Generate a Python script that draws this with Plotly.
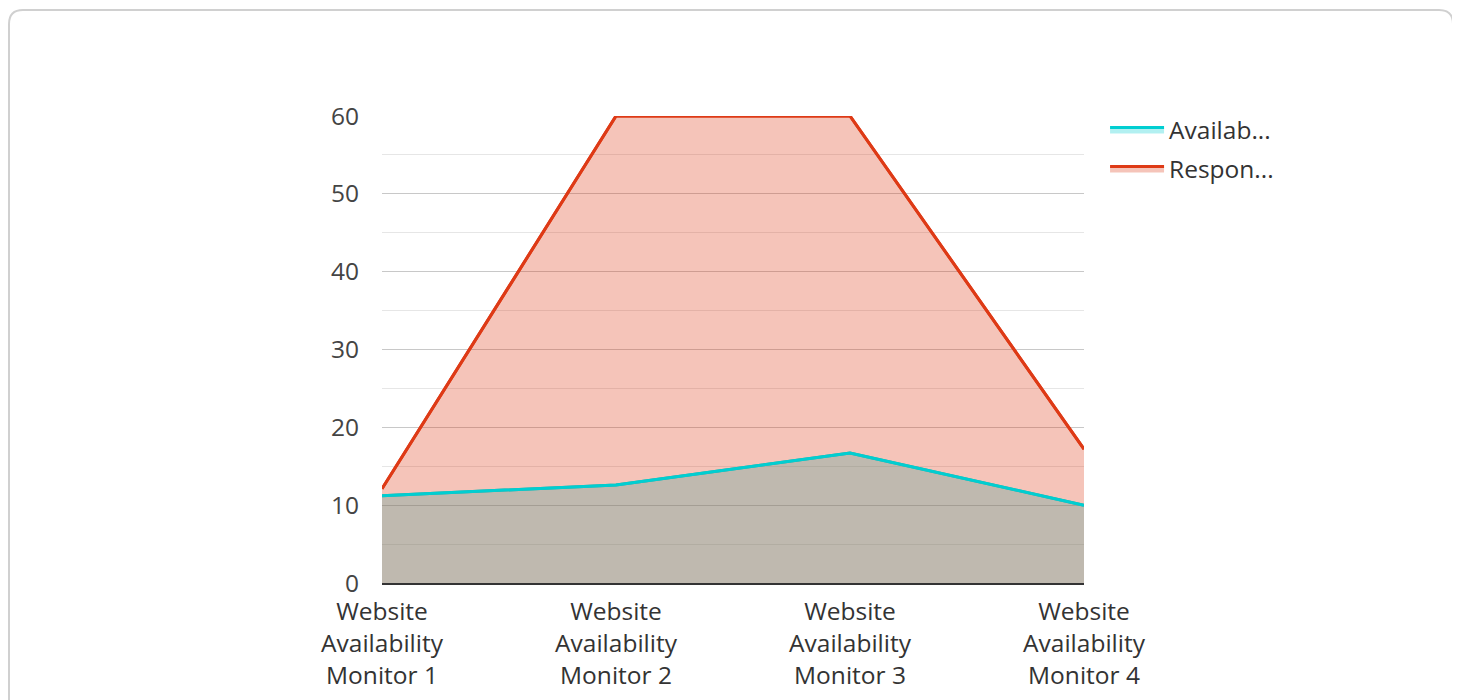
import plotly.graph_objects as go

categories = ["Website Availability Monitor 1", "Website Availability Monitor 2",
              "Website Availability Monitor 3", "Website Availability Monitor 4"]
tick_labels = ["Website<br>Availability<br>Monitor 1", "Website<br>Availability<br>Monitor 2",
               "Website<br>Availability<br>Monitor 3", "Website<br>Availability<br>Monitor 4"]
availability = [11.2, 12.6, 16.7, 10.0]
response = [12.1, 60, 60, 17.2]
series_names = ["Availab...", "Respon..."]

CYAN = "#00ced1"
RED = "#de3a16"
FONT = "Open Sans"
FS = 24.5

xs = list(range(len(categories)))

fig = go.Figure()
fig.add_trace(go.Scatter(x=xs, y=availability, mode="lines", fill="tozeroy",
                         line=dict(color=CYAN, width=3),
                         fillcolor="rgba(0,206,209,0.3)", name=series_names[0],
                         legendgroup="a", showlegend=True))
fig.add_trace(go.Scatter(x=xs, y=response, mode="lines", fill="tozeroy",
                         line=dict(color=RED, width=3),
                         fillcolor="rgba(222,58,22,0.3)", name=series_names[1],
                         legendgroup="r", showlegend=True))
fig.add_trace(go.Scatter(x=xs, y=response, mode="lines",
                         line=dict(color=RED, width=3), showlegend=False,
                         legendgroup="r", hoverinfo="skip"))
fig.add_trace(go.Scatter(x=xs, y=availability, mode="lines",
                         line=dict(color=CYAN, width=3), showlegend=False,
                         legendgroup="a", hoverinfo="skip"))

L, T = 374, 108
PW, PH = 702, 467
R = 1460 - L - PW
B = 700 - T - PH
fig.update_layout(
    width=1460, height=700,
    margin=dict(l=L, r=R, t=T, b=B),
    paper_bgcolor="white", plot_bgcolor="white",
    font=dict(family=FONT, size=FS, color="#444444"),
    legend=dict(x=1.03, y=1.019, xanchor="left", yanchor="top",
                font=dict(family=FONT, size=FS, color="#333333"),
                itemwidth=54, tracegroupgap=4, bgcolor="rgba(0,0,0,0)"),
    xaxis=dict(range=[0, 3], tickvals=xs, ticktext=tick_labels,
               showgrid=False, zeroline=False, showline=True,
               linecolor="#333333", linewidth=2, ticks="",
               ticklabelstandoff=6,
               tickfont=dict(family=FONT, size=FS, color="#333333")),
    yaxis=dict(range=[0, 60], dtick=10, showgrid=True, gridcolor="#c8c8c8",
               gridwidth=1, zeroline=False, showline=False, ticks="",
               ticklabelstandoff=22,
               minor=dict(dtick=5, showgrid=True, gridcolor="#e6e6e6", gridwidth=1),
               tickfont=dict(family=FONT, size=FS, color="#444444")),
    shapes=[dict(
        type="path", xref="paper", yref="paper",
        xsizemode="pixel", ysizemode="pixel", xanchor=0, yanchor=1,
        path=("M -359,106 L 1057,106 Q 1071,106 1071,92 L 1071,-700 "
              "L -373,-700 L -373,92 Q -373,106 -359,106 Z"),
        line=dict(color="#d0d0d0", width=2), fillcolor="rgba(0,0,0,0)", layer="below")],
)

fig.write_html("out.html")
